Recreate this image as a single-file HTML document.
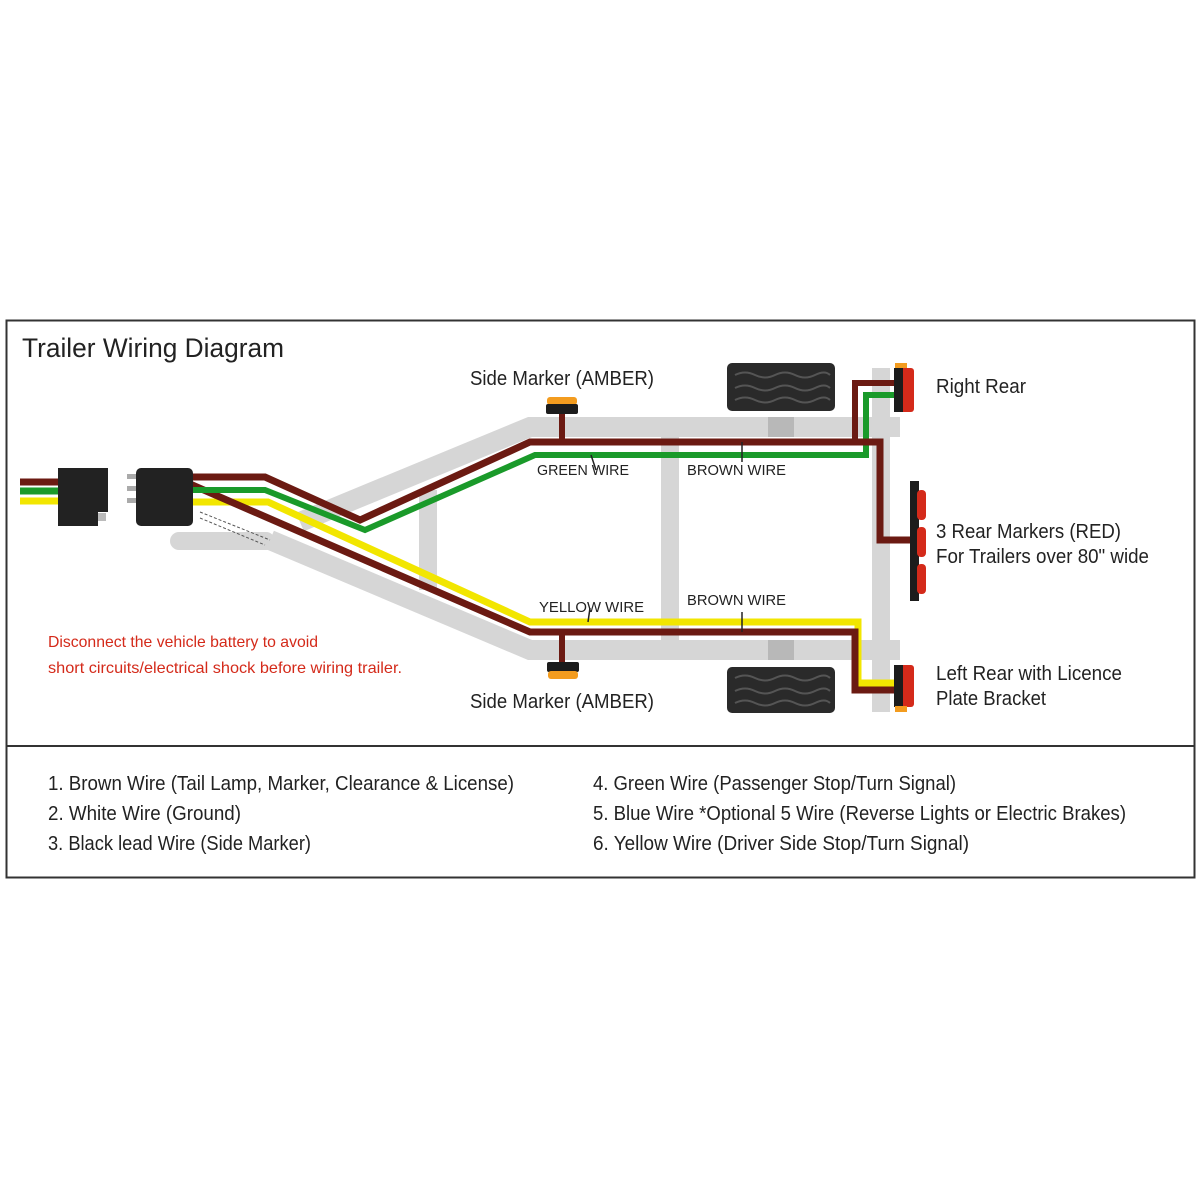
<!DOCTYPE html>
<html><head><style>
html,body{margin:0;padding:0;background:#fff;}
svg{display:block}
text{font-family:"Liberation Sans Narrow","Liberation Sans",sans-serif;}
</style></head><body>
<svg width="1200" height="1200" viewBox="0 0 1200 1200" xmlns="http://www.w3.org/2000/svg">
<rect x="0" y="0" width="1200" height="1200" fill="#fff"/>
<rect x="6.5" y="320.5" width="1188" height="557" fill="#fff" stroke="#333" stroke-width="2"/>
<line x1="6" y1="746" x2="1195" y2="746" stroke="#333" stroke-width="2"/>
<text x="22" y="357" font-size="27" fill="#222" textLength="262" lengthAdjust="spacingAndGlyphs">Trailer Wiring Diagram</text>

<!-- frame -->
<g stroke="#d6d6d6" fill="none" stroke-linecap="butt">
<polyline points="300,522 530,427 900,427" stroke-width="20"/>
<polyline points="270,540 530,650 900,650" stroke-width="20"/>
<line x1="428" y1="490" x2="428" y2="590" stroke-width="18"/>
<line x1="670" y1="435" x2="670" y2="645" stroke-width="18"/>
<line x1="881" y1="368" x2="881" y2="712" stroke-width="18"/>
</g>
<rect x="170" y="532" width="105" height="18" rx="9" fill="#d6d6d6"/>
<rect x="768" y="417" width="26" height="20" fill="#b8b8b8"/>
<rect x="768" y="640" width="26" height="20" fill="#b8b8b8"/>
<line x1="200" y1="512" x2="270" y2="540" stroke="#555" stroke-width="1" stroke-dasharray="3,2"/>
<line x1="200" y1="518" x2="265" y2="545" stroke="#555" stroke-width="1" stroke-dasharray="3,2"/>

<!-- tires -->
<rect x="727" y="363" width="108" height="48" rx="5" fill="#2a2a2a"/>
<rect x="727" y="667" width="108" height="46" rx="5" fill="#2a2a2a"/>
<g stroke="#555" stroke-width="2" fill="none">
<path d="M735 375 q10 -5 20 0 t20 0 t20 0 t20 0 t15 0"/><path d="M735 388 q10 -5 20 0 t20 0 t20 0 t20 0 t15 0"/><path d="M735 400 q10 -5 20 0 t20 0 t20 0 t20 0 t15 0"/>
<path d="M735 678 q10 -5 20 0 t20 0 t20 0 t20 0 t15 0"/><path d="M735 691 q10 -5 20 0 t20 0 t20 0 t20 0 t15 0"/><path d="M735 703 q10 -5 20 0 t20 0 t20 0 t20 0 t15 0"/>
</g>

<!-- wires left -->
<line x1="20" y1="482" x2="60" y2="482" stroke="#6b1a12" stroke-width="7"/>
<line x1="20" y1="491" x2="60" y2="491" stroke="#1a9a2a" stroke-width="7"/>
<line x1="20" y1="501" x2="60" y2="501" stroke="#f2e600" stroke-width="7"/>
<g fill="none" stroke-linejoin="miter">
<polyline points="190,502 268,502 530,622 858,622 858,683 896,683" stroke="#f2e600" stroke-width="7"/>
<polyline points="190,484 530,632 855,632 855,690 896,690" stroke="#6b1a12" stroke-width="7"/>
<polyline points="190,490 265,490 365,530 535,455 866,455 866,395 896,395" stroke="#1a9a2a" stroke-width="6"/>
<polyline points="190,477 265,477 360,520 530,442 880,442 880,540 912,540" stroke="#6b1a12" stroke-width="7"/>
<polyline points="855,442 855,383 896,383" stroke="#6b1a12" stroke-width="6"/>
<line x1="562" y1="412" x2="562" y2="442" stroke="#6b1a12" stroke-width="6"/>
<line x1="562" y1="632" x2="562" y2="662" stroke="#6b1a12" stroke-width="6"/>
</g>

<!-- connectors -->
<path d="M58 468 h50 v44 h-10 v14 h-40 z" fill="#222"/>
<rect x="98" y="513" width="8" height="8" fill="#bbb"/>
<rect x="136" y="468" width="57" height="58" rx="5" fill="#222"/>
<rect x="127" y="474" width="9" height="5" fill="#aaa"/><rect x="127" y="486" width="9" height="5" fill="#aaa"/><rect x="127" y="498" width="9" height="5" fill="#aaa"/>

<!-- side markers -->
<rect x="547" y="397" width="30" height="8" rx="3" fill="#f39c1f"/>
<rect x="546" y="404" width="32" height="10" rx="2" fill="#1c1c1c"/>
<rect x="547" y="662" width="32" height="10" rx="2" fill="#1c1c1c"/>
<rect x="548" y="671" width="30" height="8" rx="3" fill="#f39c1f"/>

<!-- rear lights -->
<rect x="895" y="363" width="12" height="6" fill="#f39c1f"/>
<rect x="894" y="368" width="20" height="44" rx="3" fill="#d42a1a"/>
<rect x="894" y="368" width="9" height="44" fill="#1c1c1c"/>
<rect x="910" y="481" width="9" height="120" fill="#1c1c1c"/>
<rect x="917" y="490" width="9" height="30" rx="4" fill="#d42a1a"/>
<rect x="917" y="527" width="9" height="30" rx="4" fill="#d42a1a"/>
<rect x="917" y="564" width="9" height="30" rx="4" fill="#d42a1a"/>
<rect x="894" y="665" width="20" height="42" rx="3" fill="#d42a1a"/>
<rect x="894" y="665" width="9" height="42" fill="#1c1c1c"/>
<rect x="895" y="706" width="12" height="6" fill="#f39c1f"/>

<!-- tick marks -->
<g stroke="#222" stroke-width="1.5">
<line x1="591" y1="455" x2="596" y2="470"/><line x1="742" y1="442" x2="742" y2="462"/>
<line x1="590" y1="608" x2="588" y2="622"/><line x1="742" y1="612" x2="742" y2="632"/>
</g>

<g fill="#222" font-size="20">
<text x="470" y="385" textLength="184" lengthAdjust="spacingAndGlyphs">Side Marker (AMBER)</text>
<text x="470" y="708" textLength="184" lengthAdjust="spacingAndGlyphs">Side Marker (AMBER)</text>
<text x="936" y="393" textLength="90" lengthAdjust="spacingAndGlyphs">Right Rear</text>
<text x="936" y="538" textLength="185" lengthAdjust="spacingAndGlyphs">3 Rear Markers (RED)</text>
<text x="936" y="563" textLength="213" lengthAdjust="spacingAndGlyphs">For Trailers over 80" wide</text>
<text x="936" y="680" textLength="186" lengthAdjust="spacingAndGlyphs">Left Rear with Licence</text>
<text x="936" y="705" textLength="110" lengthAdjust="spacingAndGlyphs">Plate Bracket</text>
</g>
<g fill="#222" font-size="15">
<text x="537" y="475" textLength="92" lengthAdjust="spacingAndGlyphs">GREEN WIRE</text>
<text x="687" y="475" textLength="99" lengthAdjust="spacingAndGlyphs">BROWN WIRE</text>
<text x="539" y="612" textLength="105" lengthAdjust="spacingAndGlyphs">YELLOW WIRE</text>
<text x="687" y="605" textLength="99" lengthAdjust="spacingAndGlyphs">BROWN WIRE</text>
</g>
<g fill="#d42a1a" font-size="16">
<text x="48" y="647" textLength="270" lengthAdjust="spacingAndGlyphs">Disconnect the vehicle battery to avoid</text>
<text x="48" y="673" textLength="354" lengthAdjust="spacingAndGlyphs">short circuits/electrical shock before wiring trailer.</text>
</g>
<g fill="#222" font-size="20">
<text x="48" y="790" textLength="466" lengthAdjust="spacingAndGlyphs">1. Brown Wire (Tail Lamp, Marker, Clearance &amp; License)</text>
<text x="48" y="820" textLength="193" lengthAdjust="spacingAndGlyphs">2. White Wire (Ground)</text>
<text x="48" y="850" textLength="263" lengthAdjust="spacingAndGlyphs">3. Black lead Wire (Side Marker)</text>
<text x="593" y="790" textLength="363" lengthAdjust="spacingAndGlyphs">4. Green Wire (Passenger Stop/Turn Signal)</text>
<text x="593" y="820" textLength="533" lengthAdjust="spacingAndGlyphs">5. Blue Wire *Optional 5 Wire (Reverse Lights or Electric Brakes)</text>
<text x="593" y="850" textLength="376" lengthAdjust="spacingAndGlyphs">6. Yellow Wire (Driver Side Stop/Turn Signal)</text>
</g>
</svg>
</body></html>
